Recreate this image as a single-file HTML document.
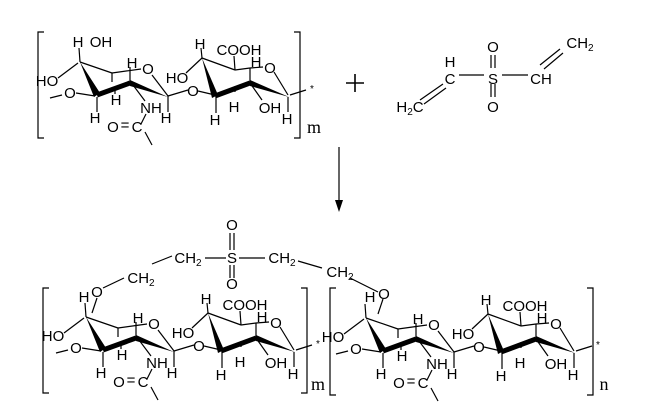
<!DOCTYPE html>
<html><head><meta charset="utf-8"><style>
html,body{margin:0;padding:0;background:#fff;width:669px;height:414px;overflow:hidden}
svg text{font-family:"Liberation Sans",sans-serif;font-size:15px;fill:#000}
svg text.s{font-family:"Liberation Serif",serif;font-size:18px}
</style></head><body>
<svg width="669" height="414" viewBox="0 0 669 414" xmlns="http://www.w3.org/2000/svg">
<defs>
<g id="u" stroke="#000" stroke-width="1.2" fill="none">
 <polygon points="80,62 94,97 100,93" fill="#000" stroke="none"/>
 <line x1="97" y1="95" x2="130" y2="83" stroke-width="5"/>
 <polygon points="130,80 130,86 168,97" fill="#000" stroke="none"/>
 <line x1="80" y1="62" x2="112" y2="73"/>
 <line x1="112" y1="73" x2="141" y2="69"/>
 <line x1="112" y1="73" x2="112" y2="82"/>
 <line x1="80" y1="62" x2="79" y2="48"/>
 <line x1="58" y1="78" x2="78" y2="63"/>
 <line x1="50" y1="98" x2="62" y2="95"/>
 <line x1="76" y1="93" x2="95" y2="96"/>
 <line x1="97" y1="97" x2="97" y2="112"/>
 <line x1="115" y1="89" x2="115" y2="94"/>
 <line x1="130" y1="83" x2="130" y2="67"/>
 <line x1="133" y1="85" x2="145" y2="101"/>
 <line x1="141" y1="124" x2="146" y2="114"/>
 <line x1="145" y1="132" x2="152" y2="145"/>
 <line x1="168" y1="96" x2="152" y2="75"/>
 <line x1="168" y1="96" x2="168" y2="112"/>
 <line x1="168" y1="96" x2="188" y2="90"/>
 <line x1="198" y1="91" x2="215" y2="95"/>
 <line x1="186" y1="73" x2="202" y2="58"/>
 <line x1="202" y1="58" x2="201" y2="48"/>
 <polygon points="202,58 212,98 218,95" fill="#000" stroke="none"/>
 <line x1="215" y1="96" x2="250" y2="83" stroke-width="5"/>
 <polygon points="250,80 250,86 289,97" fill="#000" stroke="none"/>
 <line x1="202" y1="58" x2="235" y2="70"/>
 <line x1="235" y1="70" x2="234" y2="56"/>
 <line x1="235" y1="70" x2="250" y2="68"/>
 <line x1="250" y1="68" x2="263" y2="67"/>
 <line x1="235" y1="86" x2="235" y2="92"/>
 <line x1="250" y1="83" x2="250" y2="68"/>
 <line x1="250" y1="83" x2="262" y2="100"/>
 <line x1="274" y1="72" x2="288" y2="95"/>
 <line x1="288" y1="97" x2="288" y2="112"/>
 <line x1="216" y1="97" x2="216" y2="113"/>
 <line x1="290" y1="95" x2="306" y2="90"/>
 <g stroke="none" fill="#000" text-anchor="middle">
  <text x="47" y="86">HO</text>
  <text x="70" y="98">O</text>
  <text x="116" y="105">H</text>
  <text x="95" y="123">H</text>
  <text x="113" y="132">O</text>
  <text x="125" y="130">=</text>
  <text x="137" y="132">C</text>
  <text x="151" y="113">NH</text>
  <text x="166" y="123">H</text>
  <text x="132" y="68">H</text>
  <text x="148" y="74">O</text>
  <text x="177" y="83">HO</text>
  <text x="193" y="96">O</text>
  <text x="200" y="49">H</text>
  <text x="239" y="55">COOH</text>
  <text x="256" y="67">H</text>
  <text x="270" y="73">O</text>
  <text x="234" y="112">H</text>
  <text x="215" y="125">H</text>
  <text x="270" y="113">OH</text>
  <text x="287" y="124">H</text>
  <text x="312" y="92" style="font-size:10px">*</text>
 </g>
</g>
</defs>
<g stroke="#000" stroke-width="1.2" fill="none">
 <polyline points="44,32 38,32 38,138 44,138"/>
 <polyline points="294,32 300,32 300,138 294,138"/>
 <polyline points="49,288 43,288 43,393 49,393"/>
 <polyline points="301,288 307,288 307,393 301,393"/>
 <polyline points="336,288 330,288 330,395 336,395"/>
 <polyline points="587,288 593,288 593,395 587,395"/>
 <line x1="346" y1="83" x2="364" y2="83" stroke-width="1.6"/>
 <line x1="355" y1="74" x2="355" y2="92" stroke-width="1.6"/>
 <line x1="339" y1="147" x2="339" y2="203"/>
 <polygon points="335,200 343,200 339,212" fill="#000" stroke="none"/>
 <line x1="420" y1="100" x2="443" y2="84"/>
 <line x1="424" y1="104" x2="446" y2="88"/>
 <line x1="459" y1="75" x2="484" y2="75"/>
 <line x1="502" y1="75" x2="528" y2="75"/>
 <line x1="491" y1="55" x2="491" y2="68"/><line x1="495" y1="55" x2="495" y2="68"/>
 <line x1="491" y1="84" x2="491" y2="97"/><line x1="495" y1="84" x2="495" y2="97"/>
 <line x1="540" y1="65" x2="560" y2="49"/>
 <line x1="544" y1="69" x2="563" y2="53"/>
 <line x1="103" y1="288" x2="124" y2="278"/>
 <line x1="152" y1="264" x2="172" y2="256"/>
 <line x1="205" y1="258" x2="226" y2="258"/>
 <line x1="239" y1="258" x2="265" y2="258"/>
 <line x1="230" y1="233" x2="230" y2="250"/><line x1="234" y1="233" x2="234" y2="250"/>
 <line x1="230" y1="265" x2="230" y2="278"/><line x1="234" y1="265" x2="234" y2="278"/>
 <line x1="298" y1="261" x2="322" y2="268"/>
 <line x1="350" y1="278" x2="378" y2="292"/>
 <line x1="97" y1="298" x2="92" y2="313"/>
 <line x1="383" y1="299" x2="378" y2="314"/>
</g>
<use href="#u"/>
<use href="#u" transform="translate(6,255)"/>
<use href="#u" transform="translate(286,256)"/>
<g text-anchor="middle">
 <text x="78" y="47">H</text><text x="101" y="47">OH</text>
 <text class="s" x="314" y="133">m</text>
 <text x="84" y="302">H</text><text x="97" y="297">O</text>
 <text x="370" y="302">H</text><text x="384" y="299">O</text>
 <text class="s" x="318" y="390">m</text>
 <text class="s" x="604" y="390">n</text>
 <text x="450" y="67">H</text><text x="450" y="84">C</text>
 <text x="410" y="112">H<tspan font-size="10" dy="3">2</tspan><tspan dy="-3">C</tspan></text>
 <text x="493" y="84">S</text>
 <text x="493" y="52">O</text><text x="493" y="112">O</text>
 <text x="541" y="84">CH</text>
 <text x="580" y="48">CH<tspan font-size="10" dy="3">2</tspan></text>
 <text x="141" y="283">CH<tspan font-size="10" dy="3">2</tspan></text>
 <text x="188" y="263">CH<tspan font-size="10" dy="3">2</tspan></text>
 <text x="232" y="263">S</text>
 <text x="232" y="230">O</text><text x="232" y="289">O</text>
 <text x="282" y="263">CH<tspan font-size="10" dy="3">2</tspan></text>
 <text x="340" y="277">CH<tspan font-size="10" dy="3">2</tspan></text>
</g>
</svg>
</body></html>
